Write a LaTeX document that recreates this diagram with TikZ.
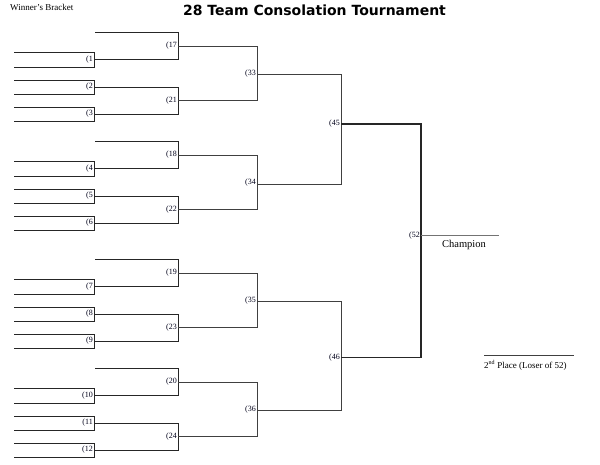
\documentclass[tikz,border=0pt]{standalone}
\usepackage{fontspec}
\setmainfont{Liberation Serif}
\newfontfamily\titlefont{DejaVu Sans}
\begin{document}
\begin{tikzpicture}[x=1pt,y=-1pt,
  brk/.style={draw=black!85,line width=0.9pt},
  thin/.style={draw=black!75,line width=0.8pt},
  lab/.style={font=\fontsize{8}{9}\selectfont,text=black!90!blue,inner sep=0.5pt,anchor=east},
  txt/.style={font=\fontsize{10.5}{12}\selectfont,inner sep=0pt}]
\useasboundingbox (0,0) rectangle (600,464);
\node[font=\titlefont\fontsize{14}{17}\selectfont\bfseries,inner sep=0pt] (title) at (314.5,10) {28 Team Consolation Tournament};
\node[font=\fontsize{9}{10}\selectfont,inner sep=0pt,anchor=west] (wb) at (10,7) {Winner's Bracket};
\foreach \o/\a/\b/\c/\r/\s/\t in {0/1/2/3/17/21/33, 109/4/5/6/18/22/34, 227/7/8/9/19/23/35, 336/10/11/12/20/24/36} {
  % first-round boxes
  \draw[brk] (14,{52+\o}) -- (94,{52+\o}) -- (94,{67+\o}) -- (14,{67+\o});
  \draw[brk] (14,{80+\o}) -- (94,{80+\o}) -- (94,{94+\o}) -- (14,{94+\o});
  \draw[brk] (14,{107+\o}) -- (94,{107+\o}) -- (94,{121+\o}) -- (14,{121+\o});
  \node[lab] (m\a) at (93.5,{59.5+\o}) {(\a};
  \node[lab] (m\b) at (93.5,{87+\o}) {(\b};
  \node[lab] (m\c) at (93.5,{114+\o}) {(\c};
  % second round
  \draw[brk] (95,{32+\o}) -- (178,{32+\o}) -- (178,{59.5+\o}) -- (94,{59.5+\o});
  \draw[brk] (94,{87+\o}) -- (178,{87+\o}) -- (178,{114+\o}) -- (94,{114+\o});
  \node[lab] (m\r) at (177.5,{46+\o}) {(\r};
  \node[lab] (m\s) at (177.5,{100.5+\o}) {(\s};
  % third round
  \draw[thin] (178,{46+\o}) -- (257,{46+\o}) -- (257,{100.5+\o}) -- (178,{100.5+\o});
  \node[lab] (m\t) at (256.5,{74+\o}) {(\t};
}
% fourth round
\draw[thin] (257,74) -- (341,74) -- (341,184) -- (257,184);
\draw[thin] (257,301) -- (341,301) -- (341,410) -- (257,410);
\node[lab] (m45) at (340.5,124) {(45};
\node[lab] (m46) at (340.5,357.7) {(46};
% final
\draw[brk,line width=1.1pt] (341,124) -- (421,124) -- (421,357.7) -- (341,357.7);
\node[lab] (m52) at (420.5,235.7) {(52};
\coordinate (champ) at (499,235.7);
\draw[draw=black!55,line width=1.4pt] (m52.east) -- (champ);
\node[txt] (champion) at (464,245) {Champion};
\coordinate (sa) at (484,355);
\coordinate (sb) at (574,355);
\draw[draw=black!75,line width=1pt] (sa) -- (sb);
\node[txt,font=\fontsize{9}{11}\selectfont,anchor=west] (second) at (484,365) {2\textsuperscript{nd} Place (Loser of 52)};
\end{tikzpicture}
\end{document}
